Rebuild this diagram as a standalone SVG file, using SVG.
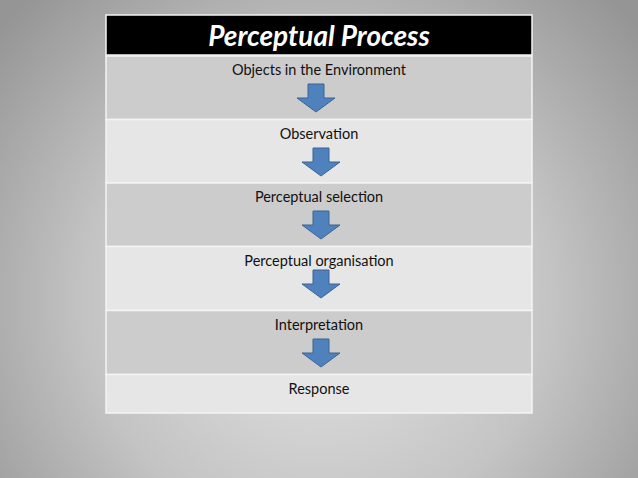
<svg xmlns="http://www.w3.org/2000/svg" width="638" height="478" viewBox="0 0 638 478">
<defs>
<radialGradient id="bg" cx="319" cy="300" r="420" gradientUnits="userSpaceOnUse">
<stop offset="0" stop-color="#e4e4e4"/>
<stop offset="0.55" stop-color="#c4c4c4"/>
<stop offset="1" stop-color="#959595"/>
</radialGradient>
<path id="arr" d="M-8,0 H8 V14 H19 L0,28 L-19,14 H-8 Z"/>
</defs>
<style>
.dark{fill:#cccccc;stroke:#f4f4f4;stroke-width:1.5}
.light{fill:#e6e6e6;stroke:#f4f4f4;stroke-width:1.5}
.lbl{font-family:Lato,"Open Sans",sans-serif;font-size:14.5px;fill:#111;text-anchor:middle}
.arrow{fill:#4f81bd;stroke:#3a6593;stroke-width:1}
</style>
<rect width="638" height="478" fill="url(#bg)"/>
<g id="header">
<rect x="106" y="15" width="426" height="40" fill="#000" stroke="#f4f4f4" stroke-width="1.5"/>
<text x="319" y="46" font-family="Lato,'Open Sans',sans-serif" font-size="28" font-weight="bold" font-style="italic" fill="#fff" text-anchor="middle">Perceptual Process</text>
</g>
<g id="row1"><rect class="dark" x="106" y="56" width="426" height="63.5"/><text class="lbl" x="319" y="75">Objects in the Environment</text></g>
<g id="row2"><rect class="light" x="106" y="119.5" width="426" height="63.5"/><text class="lbl" x="319" y="138.5">Observation</text></g>
<g id="row3"><rect class="dark" x="106" y="183" width="426" height="63.5"/><text class="lbl" x="319" y="202">Perceptual selection</text></g>
<g id="row4"><rect class="light" x="106" y="246.5" width="426" height="64"/><text class="lbl" x="319" y="266">Perceptual organisation</text></g>
<g id="row5"><rect class="dark" x="106" y="310.5" width="426" height="64"/><text class="lbl" x="319" y="330">Interpretation</text></g>
<g id="row6"><rect class="light" x="106" y="374.5" width="426" height="38.5"/><text class="lbl" x="319" y="394">Response</text></g>
<g id="connectors">
<use href="#arr" class="arrow" x="316" y="84"/>
<use href="#arr" class="arrow" x="321" y="148"/>
<use href="#arr" class="arrow" x="321" y="211"/>
<use href="#arr" class="arrow" x="321" y="270"/>
<use href="#arr" class="arrow" x="321" y="339"/>
</g>
</svg>
